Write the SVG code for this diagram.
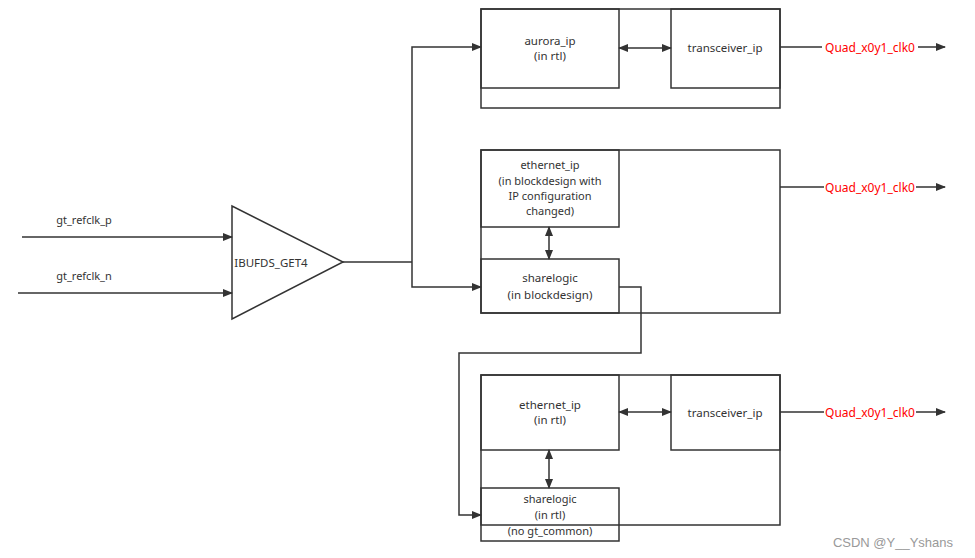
<svg xmlns="http://www.w3.org/2000/svg" width="975" height="558" viewBox="0 0 975 558">
<style>
.b{fill:none;stroke:#333;stroke-width:1.5}
.t{font-family:"Noto Sans",sans-serif;font-size:11.5px;fill:#333;text-anchor:middle}
.m{font-family:"Noto Sans",sans-serif;font-size:11px;fill:#333;text-anchor:middle}
.r{font-family:"Noto Sans",sans-serif;font-size:12px;fill:#ff0000;text-anchor:middle}
.c{fill:none;stroke:#333;stroke-width:1.5}
</style>
<defs>
<marker id="a" markerWidth="10" markerHeight="8" refX="9" refY="4" orient="auto-start-reverse" markerUnits="userSpaceOnUse"><path d="M0,0 L10,4 L0,8 Z" fill="#333"/></marker>
</defs>
<rect width="975" height="558" fill="#fff"/>
<g id="ibufds"><polygon class="b" points="232,206 232,319 343,262"/><text class="t" x="271" y="267">IBUFDS_GET4</text></g>
<g id="lbl_p"><text class="m" x="84" y="224">gt_refclk_p</text></g>
<g id="lbl_n"><text class="m" x="84" y="280">gt_refclk_n</text></g>
<g id="outer1"><rect class="b" x="481" y="9" width="299" height="99"/></g>
<g id="aurora"><rect class="b" x="481" y="9" width="138" height="79"/><text class="t" x="550" y="45">aurora_ip</text><text class="t" x="550" y="60">(in rtl)</text></g>
<g id="trx1"><rect class="b" x="671" y="9" width="109" height="79"/><text class="t" x="725" y="52">transceiver_ip</text></g>
<g id="outer2"><rect class="b" x="481" y="150" width="299" height="163"/></g>
<g id="eth2"><rect class="b" x="481" y="150" width="138" height="77"/><text class="m" x="550" y="169">ethernet_ip</text><text class="m" x="550" y="185">(in blockdesign with</text><text class="m" x="550" y="200">IP configuration</text><text class="m" x="550" y="215">changed)</text></g>
<g id="share2"><rect class="b" x="481" y="259" width="138" height="54"/><text class="t" x="550" y="282">sharelogic</text><text class="t" x="550" y="299">(in blockdesign)</text></g>
<g id="outer3"><rect class="b" x="481" y="375" width="299" height="150"/></g>
<g id="eth3"><rect class="b" x="481" y="375" width="138" height="75"/><text class="t" x="550" y="409">ethernet_ip</text><text class="t" x="550" y="424">(in rtl)</text></g>
<g id="trx3"><rect class="b" x="671" y="375" width="109" height="75"/><text class="t" x="725" y="417">transceiver_ip</text></g>
<g id="share3"><rect class="b" x="481" y="488" width="138" height="53"/><text class="m" x="550" y="503">sharelogic</text><text class="m" x="550" y="519">(in rtl)</text><text class="m" x="550" y="535">(no gt_common)</text></g>
<g id="connectors">
<path class="c" d="M22,237 H232" marker-end="url(#a)"/>
<path class="c" d="M18,293 H232" marker-end="url(#a)"/>
<path class="c" d="M343,262 H412"/>
<path class="c" d="M412,262 V47 H481" marker-end="url(#a)"/>
<path class="c" d="M412,262 V287 H481" marker-end="url(#a)"/>
<path class="c" d="M619,48 H671" marker-start="url(#a)" marker-end="url(#a)"/>
<path class="c" d="M549,227 V259" marker-start="url(#a)" marker-end="url(#a)"/>
<path class="c" d="M619,412 H671" marker-start="url(#a)" marker-end="url(#a)"/>
<path class="c" d="M549,450 V488" marker-start="url(#a)" marker-end="url(#a)"/>
<path class="c" d="M619,287 H641 V353 H459 V515 H481" marker-end="url(#a)"/>
<path class="c" d="M780,47 H822 M918,47 H945" marker-end="url(#a)"/>
<path class="c" d="M780,187 H824 M916,187 H945" marker-end="url(#a)"/>
<path class="c" d="M780,412 H824 M916,412 H945" marker-end="url(#a)"/>
</g>
<text class="r" x="870" y="52">Quad_x0y1_clk0</text>
<text class="r" x="870" y="192">Quad_x0y1_clk0</text>
<text class="r" x="870" y="417">Quad_x0y1_clk0</text>
<text x="893" y="547" font-family="Liberation Sans,sans-serif" font-size="13" fill="#999" text-anchor="middle">CSDN @Y__Yshans</text>
</svg>
